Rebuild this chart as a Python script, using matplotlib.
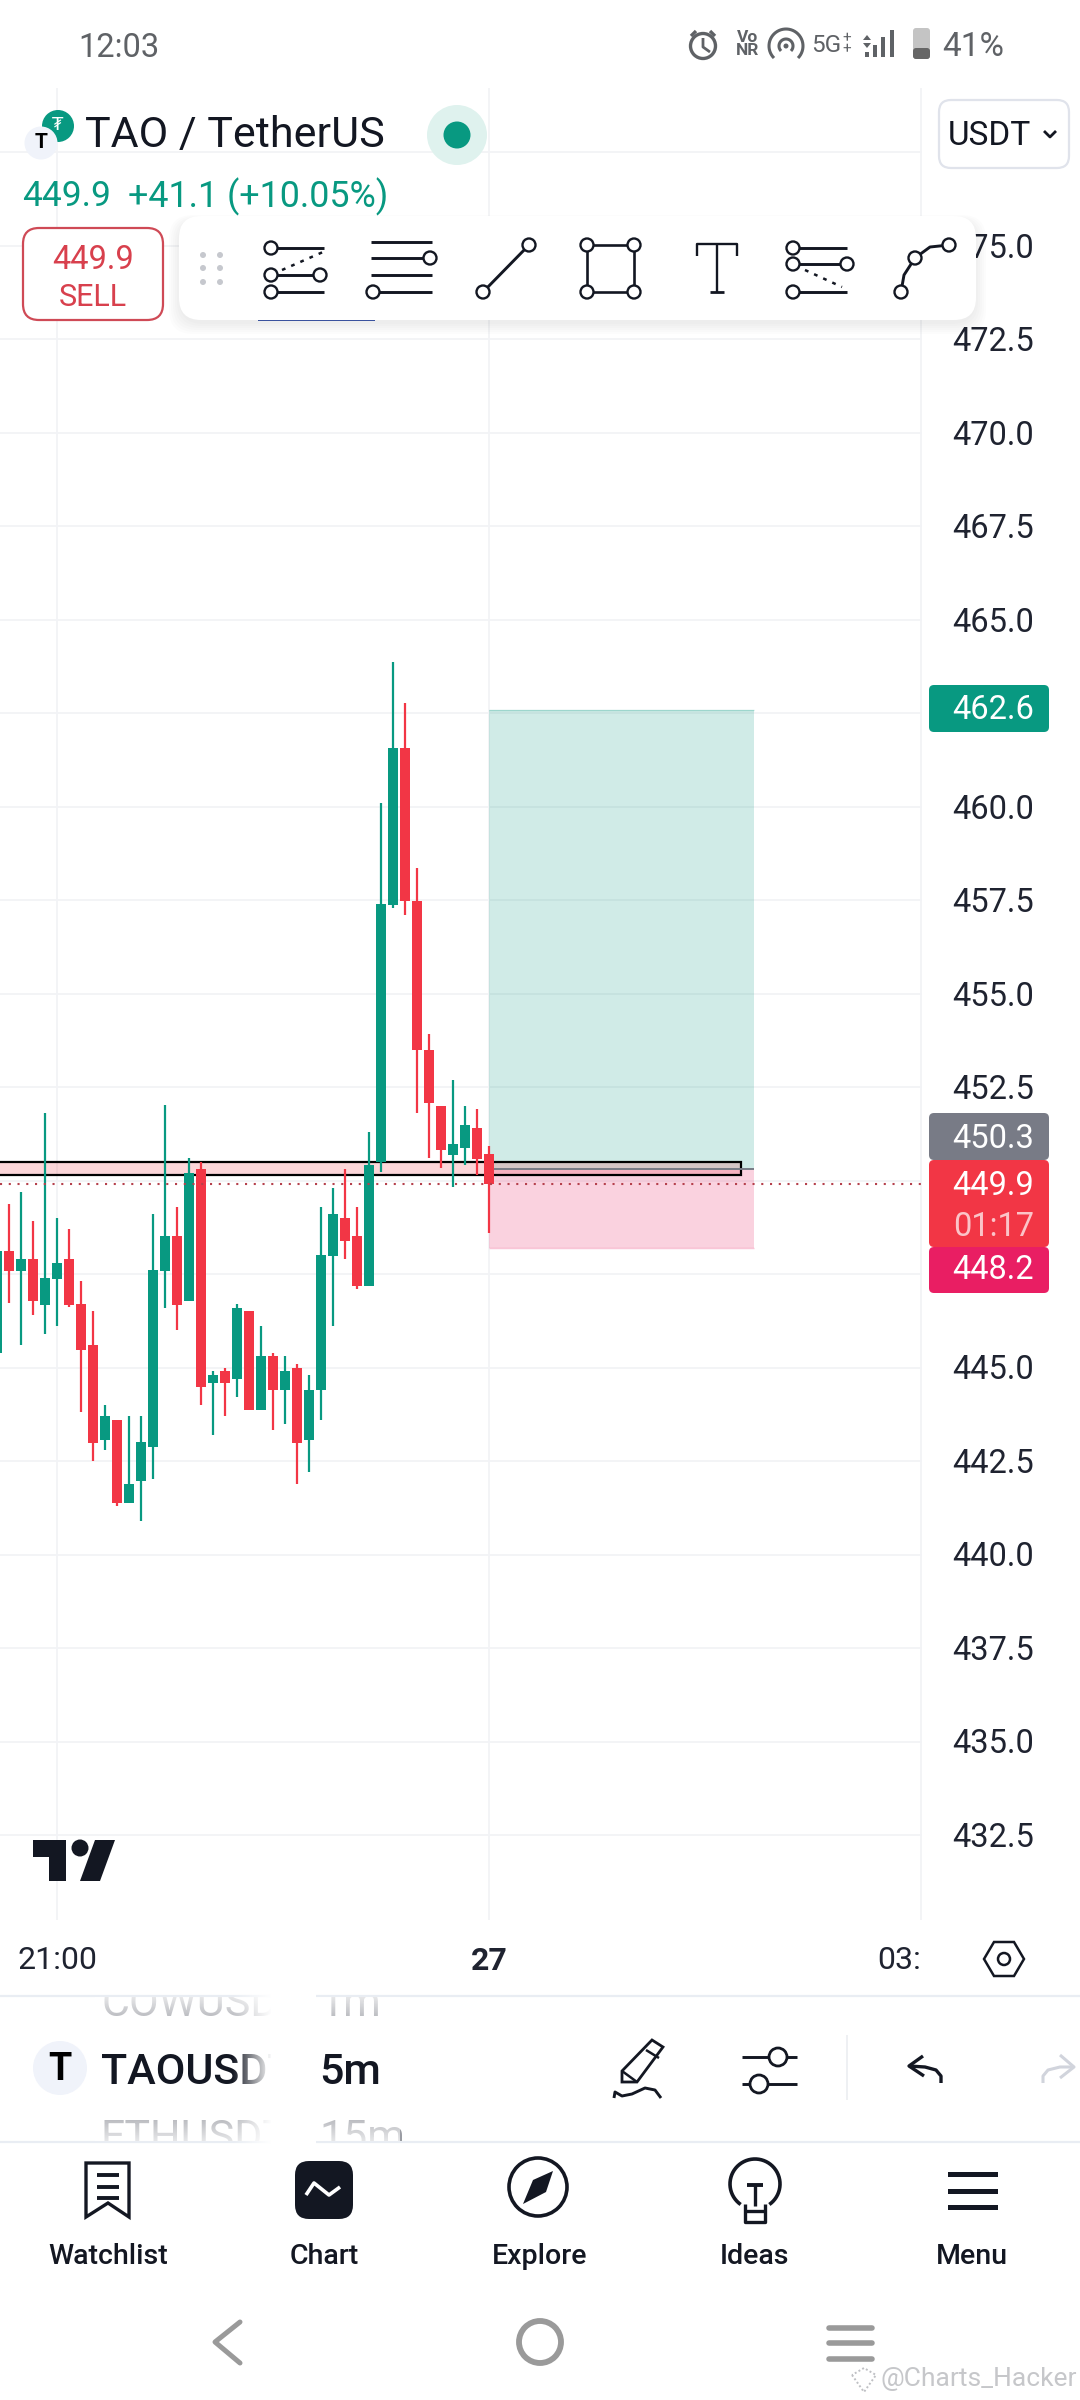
import numpy as np
import matplotlib
matplotlib.use('Agg')
import matplotlib.pyplot as plt
from matplotlib.patches import Circle, FancyBboxPatch, Polygon, Rectangle
from matplotlib.transforms import ScaledTranslation

plt.rcParams['font.family'] = ['Roboto', 'DejaVu Sans']

GREEN = '#089981'
RED = '#f23645'
DARK = '#131722'
GRID = '#f2f3f6'

opens = [445.38, 448.12, 447.59, 447.91, 446.68, 447.37, 447.91, 446.70, 445.61, 443.07, 443.60, 441.38, 441.98, 442.89,
         447.59, 448.52, 446.79, 450.31, 444.59, 444.91, 444.69, 446.52, 443.88, 445.31, 444.39, 444.99, 443.07, 444.39,
         447.99, 449.00, 448.52, 447.19, 450.49, 457.37, 461.58, 457.49, 453.50, 452.01, 450.69, 450.88, 451.40, 450.71]
closes = [448.12, 447.59, 447.91, 446.79, 447.40, 447.80, 446.68, 445.48, 442.99, 443.71, 441.38, 441.89, 443.01, 447.61,
          448.52, 446.68, 450.20, 444.49, 444.80, 444.59, 446.60, 443.88, 445.31, 444.39, 444.91, 442.99, 444.39, 448.01,
          449.11, 448.40, 447.19, 450.42, 457.40, 461.58, 457.49, 453.50, 452.08, 450.81, 450.99, 451.50, 450.59, 449.90]
highs = [448.12, 449.39, 449.69, 448.92, 451.80, 448.99, 448.71, 447.31, 446.52, 444.00, 443.60, 443.71, 443.71, 449.10,
         452.02, 449.29, 450.61, 450.49, 444.91, 444.98, 446.69, 446.52, 446.11, 445.38, 445.31, 445.10, 444.80, 449.29,
         449.80, 450.30, 449.29, 451.29, 460.09, 463.88, 462.78, 458.37, 453.91, 452.01, 452.70, 452.01, 451.91, 450.92]
lows = [445.38, 446.72, 445.61, 446.41, 445.90, 446.11, 446.61, 443.82, 442.50, 442.80, 441.30, 441.38, 440.90, 442.01,
        446.60, 446.01, 446.79, 444.00, 443.20, 443.71, 444.22, 443.88, 443.88, 443.32, 443.50, 441.90, 442.22, 443.61,
        446.12, 447.91, 447.11, 447.19, 450.22, 457.30, 457.11, 451.82, 450.61, 450.33, 449.82, 450.43, 450.14, 448.61]

price_ticks = [432.5, 435.0, 437.5, 440.0, 442.5, 445.0, 447.5, 450.0, 452.5, 455.0, 457.5, 460.0, 462.5, 465.0, 467.5,
               470.0, 472.5, 475.0, 477.5]
# these sit behind the price tags and the USDT button
hidden_ticks = [447.5, 450.0, 462.5, 477.5]
time_ticks = [5, 41, 77]
time_labels = ['21:00', '27', '03:']

last_price = 449.9
target_price = 462.6
entry_price = 450.3
stop_price = 448.2
zone_top = 450.51
zone_bottom = 450.15
position_start = 41
position_end = 63.08
zone_end = 62

fig = plt.figure(figsize=(10.8, 24), dpi=100, facecolor='white')

# chart pane, 0-922 px wide, 88-1920 px down
ax = fig.add_axes([0, 1 - 1920 / 2400, 922 / 1080, 1832 / 2400])
ax.set_xlim(0.25, 77.083)
ax.set_ylim(430.23, 479.22)
for s in ax.spines.values():
    s.set_visible(False)

ax.set_axisbelow(True)
ax.grid(True, color=GRID, linewidth=1.3)
ax.yaxis.tick_right()
ax.set_yticks(price_ticks, ['' if p in hidden_ticks else f'{p:.1f}' for p in price_ticks])
ax.set_xticks(time_ticks, time_labels)
ax.tick_params(axis='y', length=0, pad=80.5, labelsize=23.5, labelcolor='#1f2330')
ax.tick_params(axis='x', length=0, pad=19, labelsize=23, labelcolor='#1f2330')
plt.setp(ax.get_yticklabels(), ha='right')
for lab in ax.get_yticklabels():
    lab.set_transform(lab.get_transform() + ScaledTranslation(0, 0.007, fig.dpi_scale_trans))
ax.get_xticklabels()[1].set_fontweight('bold')
ax.get_xticklabels()[2].set_ha('right')

# long position box
ax.add_patch(Rectangle((position_start, entry_price), position_end - position_start, target_price - entry_price,
                       facecolor=GREEN, alpha=0.19, linewidth=0, zorder=1))
ax.add_patch(Rectangle((position_start, stop_price), position_end - position_start, entry_price - stop_price,
                       facecolor='#e91e63', alpha=0.2, linewidth=0, zorder=1))
ax.hlines(target_price, position_start, position_end, color=GREEN, alpha=0.25, linewidth=1, zorder=1)
ax.hlines(stop_price, position_start, position_end, color='#e91e63', alpha=0.25, linewidth=1, zorder=1)

# drawn zone
ax.add_patch(Rectangle((-2, zone_bottom), zone_end + 2, zone_top - zone_bottom, facecolor=RED, alpha=0.2,
                       linewidth=0, zorder=1.5))
ax.add_patch(Rectangle((-2, zone_bottom), zone_end + 2, zone_top - zone_bottom, fill=False, edgecolor='black',
                       linewidth=1.6, zorder=1.6))
ax.hlines(entry_price, position_start, position_end, color='#787b86', linewidth=1.4, zorder=1.7)

colors = [GREEN if c >= o else RED for o, c in zip(opens, closes)]
idx = np.arange(len(opens))
ax.vlines(idx, lows, highs, colors=colors, linewidth=1.6, zorder=2)
ax.bar(idx, np.abs(np.array(closes) - np.array(opens)), bottom=np.minimum(opens, closes), width=0.83, color=colors,
       zorder=3)

ax.axhline(last_price, color='#b5404c', linewidth=1.5, linestyle=(0, (1, 3.2)), zorder=4)

# everything else on the screen, in pixels
ui = fig.add_axes([0, 0, 1, 1], zorder=5)
ui.set_xlim(0, 1080)
ui.set_ylim(2400, 0)
ui.axis('off')
ui.patch.set_alpha(0)


def label(x, y, s, size, color=DARK, ha='center', weight='normal', **kw):
    return ui.text(x, y, s, fontsize=size, color=color, ha=ha, va='center', fontweight=weight, **kw)


def box(x0, y0, x1, y1, r, fc='white', ec='none', lw=0, z=2, **kw):
    p = FancyBboxPatch((x0, y0), x1 - x0, y1 - y0, boxstyle=f'round,pad=0,rounding_size={r}', facecolor=fc,
                       edgecolor=ec, linewidth=lw, zorder=z, **kw)
    ui.add_patch(p)
    return p


def line(xs, ys, color=DARK, lw=2.1, z=3, **kw):
    ui.plot(xs, ys, color=color, linewidth=lw, zorder=z, solid_capstyle=kw.pop('cap', 'butt'), **kw)


def dot(x, y, r=6.5, color=DARK, lw=1.7, fc='white', z=4):
    ui.add_patch(Circle((x, y), r, facecolor=fc, edgecolor=color, linewidth=lw, zorder=z))


# status bar
GREY = '#5f6266'
label(78, 48, '12:03', 23.5, GREY, ha='left')
ui.add_patch(Circle((703, 46), 12.5, fill=False, edgecolor=GREY, linewidth=2.4))
line([703, 703, 710], [38, 47, 52], GREY, 2)
line([691, 696], [36, 31], GREY, 2.4)
line([715, 710], [36, 31], GREY, 2.4)
label(748, 44, 'Vo\nNR', 12.5, GREY, weight='bold', linespacing=0.85)
for r in (7, 17):
    t = np.radians(np.linspace(-225, 45, 40))
    line(786 + r * np.cos(t), 46 + r * np.sin(t), GREY, 2.2)
dot(786, 46, 2.5, GREY, 0, GREY)
label(811, 46, '5G', 17.5, GREY, ha='left')
label(847, 44, '+\n+', 11, GREY, linespacing=0.7)
ui.add_patch(Polygon([(863, 40), (871, 40), (867, 35)], facecolor=GREY))
ui.add_patch(Polygon([(863, 43), (871, 43), (867, 48)], facecolor=GREY))
for x, top in zip((867, 875, 883, 892), (52, 45, 37, 30)):
    ui.add_patch(Rectangle((x - 2, top), 4, 57 - top, facecolor=GREY))
box(913, 28, 930, 59, 3, fc='#c4c4c4')
box(913, 48, 930, 59, 3, fc='#666666', z=3)
label(942, 47, '41%', 24, GREY, ha='left')

# symbol header
ui.add_patch(Circle((58, 126), 16, facecolor=GREEN, zorder=2))
label(58, 125, '₮', 13, 'white', zorder=3, family=['DejaVu Sans'])
ui.add_patch(Circle((41, 143), 16.5, facecolor='#f0f3fa', zorder=3))
label(41, 143, 'T', 15, 'black', weight='bold', zorder=4)
label(85, 136, 'TAO / TetherUS', 31, ha='left')
ui.add_patch(Circle((457, 135), 30, facecolor='#dff2ee'))
ui.add_patch(Circle((457, 135), 13.5, facecolor=GREEN))
label(22, 197, '449.9', 25.5, GREEN, ha='left')
label(128, 197, '+41.1 (+10.05%)', 25.8, GREEN, ha='left')

box(939, 100, 1069, 168, 12, ec='#e0e3eb', lw=1.6, z=4)
label(948, 136, 'USDT', 24, ha='left', zorder=5)
line([1044, 1050, 1056], [131, 137, 131], lw=2, z=5)

# sell button
box(23, 228, 163, 320, 16, ec='#cf4a56', lw=1.6, z=2)
label(93, 260, '449.9', 23.5, '#d8404d', zorder=3)
label(93, 298, 'SELL', 22, '#d8404d', zorder=3)

# drawing toolbar
ui.add_patch(Rectangle((258, 318), 117, 3, facecolor='#3f5caa', zorder=1))
for k in range(6):
    box(179 - k * 2, 216 + 4 - k, 976 + k * 2, 320 + 4 + k * 2, 24, fc='black', alpha=0.012, z=2)
box(179, 216, 976, 320, 22, z=3)
for x in (203, 220):
    for y in (255, 268, 282):
        ui.add_patch(Circle((x, y), 3, facecolor='#c6c8ce', zorder=4))
line([271, 324], [248, 248])
line([271, 320], [275, 275])
line([271, 324], [292, 292])
line([282, 323], [270, 252], lw=1.8, linestyle=(0, (1.5, 2.5)))
for p in [(271, 248), (271, 275), (320, 275), (271, 292)]:
    dot(*p)
line([371, 432], [242, 242])
line([371, 430], [258, 258])
line([371, 432], [275, 275])
line([373, 432], [292, 292])
dot(430, 258)
dot(373, 292)
line([483, 529], [292, 245])
dot(483, 292)
dot(529, 245)
ui.add_patch(Rectangle((587, 245), 47, 47, fill=False, edgecolor=DARK, linewidth=1.9, zorder=3))
for p in [(587, 245), (634, 245), (587, 292), (634, 292)]:
    dot(*p)
line([697, 697, 737, 737], [256, 244, 244, 256], lw=1.7)
line([717, 717], [244, 292], lw=1.7)
line([710, 724], [292, 292], lw=2)
line([793, 847], [248, 248])
line([793, 847], [264, 264])
line([793, 847], [292, 292])
line([805, 842], [270, 287], lw=1.8, linestyle=(0, (1.5, 2.5)))
for p in [(793, 248), (793, 264), (847, 264), (793, 292)]:
    dot(*p)
line([901, 904, 915, 930, 949], [292, 275, 258, 247, 245])
dot(901, 292)
dot(915, 258)
dot(949, 245)

# price tags
box(929, 685, 1049, 732, 5, fc=GREEN)
label(1034, 710, f'{target_price:.1f}', 23.5, 'white', ha='right', zorder=3)
box(929, 1113, 1049, 1160, 5, fc='#787b86')
label(1034, 1139, f'{entry_price:.1f}', 23.5, 'white', ha='right', zorder=3)
box(929, 1247, 1049, 1293, 5, fc='#e91e63')
label(1034, 1270, f'{stop_price:.1f}', 23.5, 'white', ha='right', zorder=3)
box(929, 1160, 1049, 1247, 5, fc=RED, z=2.5)
label(1034, 1186, f'{last_price:.1f}', 23.5, 'white', ha='right', zorder=3)
label(1034, 1227, '01:17', 23.5, '#fbc4c8', ha='right', zorder=3)

# tradingview logo
ui.add_patch(Polygon([(33, 1840), (66, 1840), (66, 1881), (49, 1881), (49, 1857), (33, 1857)], facecolor=DARK))
ui.add_patch(Circle((80, 1848), 8.5, facecolor=DARK))
ui.add_patch(Polygon([(95, 1840), (115, 1840), (100, 1881), (80, 1881)], facecolor=DARK))

# settings hexagon under the price scale
ui.add_patch(Polygon([(984, 1959), (994, 1942), (1014, 1942), (1024, 1959), (1014, 1976), (994, 1976)], fill=False,
                     edgecolor=DARK, linewidth=1.8))
ui.add_patch(Circle((1004, 1959), 6, fill=False, edgecolor=DARK, linewidth=1.8))

# symbol picker row
line([0, 1080], [1996, 1996], '#e9edf3', 1.6)
line([0, 1080], [2142, 2142], '#e9edf3', 1.6)
clip = Rectangle((0, 1997), 1080, 144, transform=ui.transData)
for x, y, s, c in [(101, 2005, 'COWUSDT', '#9a9ca3'), (319, 2005, '1m', '#9a9ca3'),
                   (101, 2139, 'ETHUSDT', '#9a9ca3'), (319, 2139, '15m', '#9a9ca3')]:
    label(x, y, s, 31, c, ha='left', clip_on=True).set_clip_path(clip)
label(101, 2072, 'TAOUSDT', 31, ha='left', weight='medium')
label(319, 2072, '5m', 31, ha='left', weight='medium')
ui.add_patch(Rectangle((272, 1990), 44, 160, facecolor='white', zorder=4))
fade = np.ones((1, 40, 4))
fade[:, :, 3] = np.linspace(0, 1, 40)
ui.imshow(fade, extent=(232, 272, 2150, 1990), aspect='auto', zorder=4)
for y0, y1 in [(1997, 2026), (2110, 2141)]:
    fade = np.ones((20, 1, 4))
    fade[:, 0, 3] = np.linspace(0.75, 0.15, 20) if y0 < 2000 else np.linspace(0.15, 0.75, 20)
    ui.imshow(fade, extent=(95, 400, y1, y0), aspect='auto', zorder=4)
ui.set_xlim(0, 1080)
ui.set_ylim(2400, 0)
ui.add_patch(Circle((60, 2068), 27, facecolor='#f0f3fa', zorder=2))
label(60, 2070, 'T', 27, 'black', weight='bold', zorder=3)

ui.add_patch(Polygon([(652, 2040), (663, 2047), (637, 2082), (622, 2082), (622, 2071)], fill=False, edgecolor=DARK,
                     linewidth=2))
line([622, 637], [2071, 2082], lw=1.8)
line([646, 659], [2050, 2058], lw=1.8)
line([614, 615, 622, 632, 645, 655, 661], [2098, 2092, 2096, 2094, 2088, 2090, 2098])
line([742, 797], [2057, 2057])
line([742, 797], [2084, 2084])
dot(778, 2057, 9, lw=2)
dot(759, 2084, 9, lw=2)
line([847, 847], [2035, 2100], '#eef0f3', 1.4)
line([923, 909, 924], [2056, 2066, 2076], lw=2.4)
line([909, 925, 936, 941, 941], [2066, 2067, 2070, 2076, 2083], lw=2.4)
line([1043, 1043, 1048, 1060, 1074], [2083, 2076, 2070, 2067, 2067], '#d1d4dc', 2.2)
line([1060, 1074, 1060], [2055, 2067, 2078], '#d1d4dc', 2.2)

# bottom navigation
for x, s in [(108, 'Watchlist'), (324, 'Chart'), (540, 'Explore'), (755, 'Ideas'), (972, 'Menu')]:
    label(x, 2256, s, 20.5, weight='medium')
ui.add_patch(Polygon([(86, 2163), (129, 2163), (129, 2217), (108, 2203), (86, 2217)], fill=False, edgecolor=DARK,
                     linewidth=2.4))
for y in (2175, 2187, 2198):
    line([97, 119], [y, y], lw=2.8)
box(295, 2161, 353, 2219, 14, fc=DARK)
line([306, 314, 329, 340], [2195, 2183, 2195, 2187], 'white', 2.6, z=3)
ui.add_patch(Circle((538, 2187), 29, fill=False, edgecolor=DARK, linewidth=2.6))
ui.add_patch(Polygon([(553, 2171), (533, 2180), (523, 2204), (546, 2192)], facecolor=DARK))
t = np.radians(np.linspace(125, 415, 50))
line(755 + 25 * np.cos(t), 2184 + 25 * np.sin(t), lw=2.6)
line([745, 745, 765, 765], [2204, 2222, 2222, 2204], lw=2.4)
line([745, 765], [2211, 2211], lw=2.4)
line([747, 763], [2185, 2185], lw=2.8)
line([755, 755], [2185, 2206], lw=2.4)
for y in (2174, 2191, 2207):
    ui.add_patch(Rectangle((948, y - 2.5), 50, 5, facecolor=DARK))

# android nav bar
NAV = '#9a9a9a'
line([240, 215, 240], [2322, 2342, 2363], NAV, 3.6, cap='round')
ui.add_patch(Circle((540, 2342), 21, fill=False, edgecolor=NAV, linewidth=4.2))
for y in (2328, 2343, 2359):
    line([829, 872], [y, y], NAV, 4, cap='round')

label(881, 2379, '@Charts_Hacker', 19, '#c6c7ca', ha='left')
line([852, 864, 876, 864, 852], [2375, 2392, 2375, 2368, 2375], '#bfc0c4', 1.4, linestyle=(0, (1, 1.2)))

fig.savefig('out.png', dpi=100)
